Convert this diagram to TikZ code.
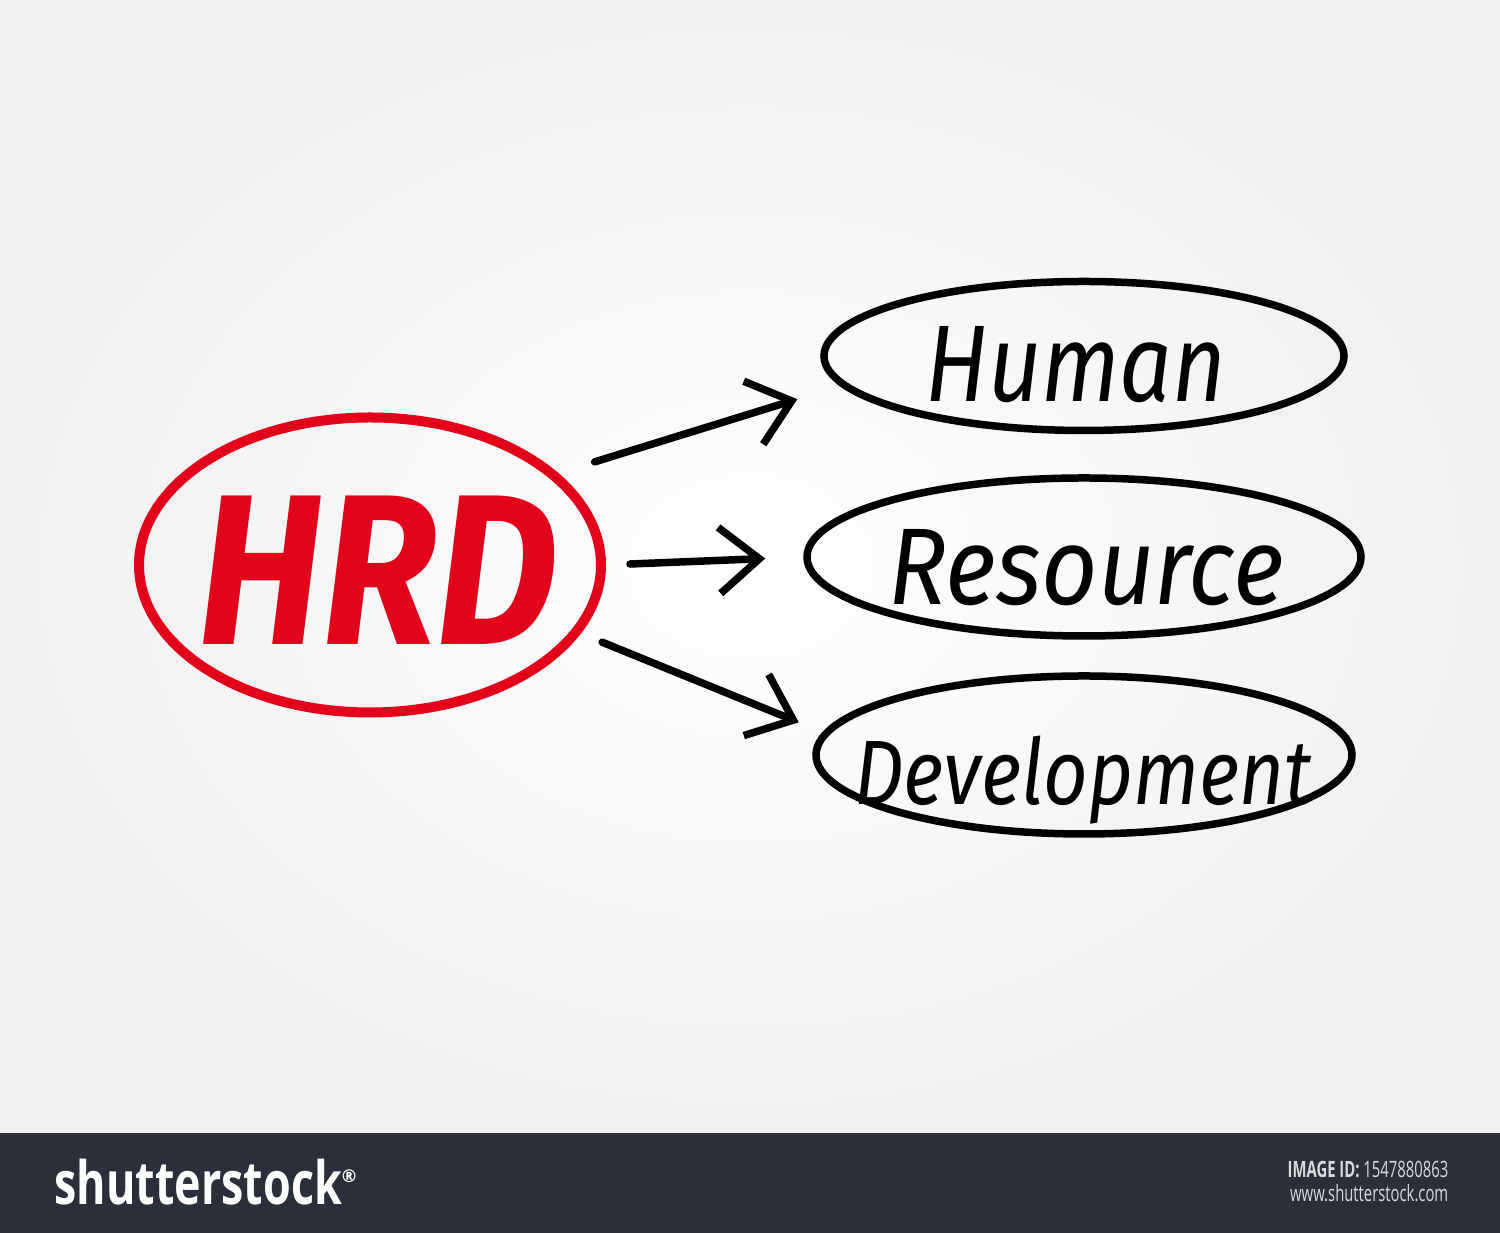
\documentclass[tikz,border=0pt]{standalone}
\usepackage{fontspec}
\setmainfont{Fira Sans}
\newfontfamily\barfont{Open Sans}
\usetikzlibrary{shapes.geometric,arrows.meta}
\definecolor{hrdred}{HTML}{E2001A}
\definecolor{barbg}{HTML}{2A2F39}
\definecolor{bartext}{HTML}{D8DADD}
\begin{document}
\begin{tikzpicture}[
  word/.style={draw,ellipse,line width=0.075cm,inner sep=0pt},
  wordtxt/.style={anchor=base,inner sep=0pt},
  arr/.style={-{Straight Barb[length=0.4cm,width=0.66cm]},line width=0.075cm,line cap=round}]
\useasboundingbox (0,0) rectangle (15,12.33);
% background
\shade[inner color=white,outer color=black!6] (0,1) rectangle (15,12.33);
\fill[barbg] (0,0) rectangle (15,1);
% the acronym
\node[word,draw=hrdred,line width=0.1cm,minimum width=4.62cm,minimum height=2.95cm] (hrd) at (3.70,6.68) {};
\node[wordtxt,text=hrdred] (hrdtxt) at (3.78,5.88) {\fontsize{61}{61}\selectfont\bfseries\itshape\scalebox{0.88}[1]{HRD}};
% the words
\node[word,minimum width=5.20cm,minimum height=1.49cm] (human) at (10.84,8.77) {};
\node[word,minimum width=5.54cm,minimum height=1.58cm] (resource) at (10.84,6.76) {};
\node[word,minimum width=5.36cm,minimum height=1.58cm] (development) at (10.84,4.78) {};
\node[wordtxt] (humantxt) at (10.76,8.31) {\fontsize{31}{31}\selectfont\itshape\scalebox{0.85}[1]{Human}};
\node[wordtxt] (resourcetxt) at (10.86,6.28) {\fontsize{31}{31}\selectfont\itshape\scalebox{0.9}[1]{Resource}};
\node[wordtxt] (developmenttxt) at (10.83,4.28) {\fontsize{26}{26}\selectfont\itshape\scalebox{0.85}[1]{Development}};
% arrows
\draw[arr,shorten <=0.38cm,shorten >=0.45cm] (hrd.26) -- (human.187);
\draw[arr,shorten <=0.24cm,shorten >=0.38cm] (hrd.0) -- (resource.180);
\draw[arr,shorten <=0.23cm,shorten >=0.26cm] (hrd.-18) -- (development.175);
% bottom bar
\node[anchor=base west,inner sep=0pt,text=white] (brand) at (0.54,0.28) {\barfont\fontsize{17}{17}\selectfont\bfseries\scalebox{0.75}[1]{shutterstock}\textsuperscript{\tiny\textregistered}};
\node[anchor=base east,inner sep=0pt,text=bartext] (imgid) at (14.49,0.55) {\barfont\fontsize{6.4}{6.4}\selectfont\scalebox{0.66}[1]{\bfseries IMAGE ID:}\scalebox{0.66}[1]{ 1547880863}};
\node[anchor=base east,inner sep=0pt,text=bartext] (site) at (14.49,0.31) {\barfont\fontsize{6.4}{6.4}\selectfont\scalebox{0.66}[1]{www.shutterstock.com}};
\end{tikzpicture}
\end{document}
